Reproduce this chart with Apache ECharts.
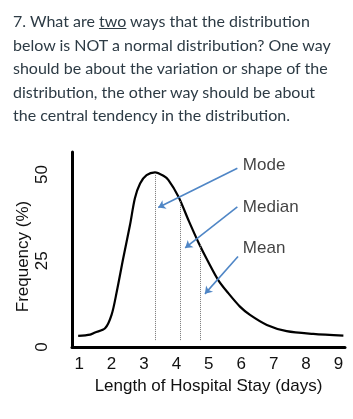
<!DOCTYPE html>
<html>
<head>
<meta charset="utf-8">
<script src="https://cdn.jsdelivr.net/npm/echarts@6/dist/echarts.min.js"></script>
<style>
  html, body { margin: 0; padding: 0; background: #fff; }
  #question {
    position: absolute; left: 13px; top: 9px;
    font-family: Lato, sans-serif; font-size: 16px; line-height: 23.6px;
    color: #2d3b45; white-space: nowrap; z-index: 2;
  }
  #chart { position: absolute; left: 0; top: 0; width: 353px; height: 419px; }
</style>
</head>
<body>
<div id="question">
  7. What are <u>two</u> ways that the distribution<br>
  below is NOT a normal distribution? One way<br>
  should be about the variation or shape of the<br>
  distribution, the other way should be about<br>
  the central tendency in the distribution.
</div>
<div id="chart"></div>
<script>
// curve: [days, frequency %]
const curveX = [0.97, 1.34, 1.49, 1.8, 2.0, 2.16, 2.36, 2.57, 2.72, 2.88, 3.08, 3.34, 3.6, 3.75, 4.06, 4.37, 4.68, 4.98, 5.29, 5.6, 5.96, 6.27, 6.79, 7.4, 8.22, 9.15]
const curveY = [3.2, 3.6, 4.2, 5.4, 9.3, 16, 25.7, 35.4, 43.1, 47.4, 49.8, 50.6, 49.6, 48.4, 43.6, 36.8, 30.3, 24.7, 19.4, 15.6, 11.7, 9.3, 6.4, 4.6, 3.8, 3.3]
const xTicks = [1, 2, 3, 4, 5, 6, 7, 8, 9]
const yTicks = [0, 25, 50]

// centre measures
const centerNames = ['Mode', 'Median', 'Mean']
const centerX = [3.36, 4.11, 4.73]
const centerTop = [50.6, 42.6, 29.6]
const centerBottom = 2

// annotation arrows (tail -> head) and label anchors
const arrowTail = [[5.88, 51.8], [5.88, 40.6], [5.9, 26.2]]
const arrowHead = [[3.44, 40.4], [4.27, 28.7], [4.88, 15.4]]
const labelPos = [[6.05, 52.7], [6.05, 40.6], [6.05, 28.7]]

const chart = echarts.init(document.getElementById('chart'))
const font = 'Liberation Sans, Arial, sans-serif'

const option = {
  animation: false,
  grid: { left: 72, right: 8, top: 152, bottom: 72 },
  xAxis: {
    type: 'value',
    min: 0.78,
    max: 9.2,
    name: 'Length of Hospital Stay (days)',
    nameLocation: 'middle',
    nameGap: 31,
    nameTextStyle: { color: '#111', fontSize: 17, fontFamily: font },
    axisLine: { lineStyle: { color: '#000', width: 3 } },
    axisTick: { show: false },
    splitLine: { show: false },
    axisLabel: { customValues: xTicks, color: '#111', fontSize: 17, fontFamily: font, margin: 9 }
  },
  yAxis: {
    type: 'value',
    min: 0,
    max: 56.5,
    name: 'Frequency (%)',
    nameLocation: 'middle',
    nameRotate: 90,
    nameGap: 40,
    nameMoveOverlap: false,
    nameTextStyle: { color: '#111', fontSize: 17, fontFamily: font, padding: [0, 14, 0, 0] },
    axisLine: { show: true, lineStyle: { color: '#000', width: 3 } },
    axisTick: { show: false },
    splitLine: { show: false },
    axisLabel: { customValues: yTicks, rotate: 90, color: '#111', fontSize: 17, fontFamily: font, margin: 21 }
  },
  series: [
    {
      type: 'line',
      data: curveX.map((x, i) => [x, curveY[i]]),
      smooth: 0.3,
      showSymbol: false,
      lineStyle: { color: '#000', width: 2.2 },
      z: 3,
      markLine: {
        silent: true,
        symbol: ['none', 'none'],
        label: { show: false },
        lineStyle: { color: '#777', type: 'dotted', width: 1 },
        data: centerX.map((x, i) => [{ coord: [x, centerBottom] }, { coord: [x, centerTop[i]] }])
      }
    },
    {
      type: 'line',
      data: [],
      markLine: {
        silent: true,
        symbol: ['none', 'arrow'],
        symbolSize: 7,
        label: { show: false },
        lineStyle: { color: '#4f86c6', type: 'solid', width: 1.6 },
        data: arrowTail.map((t, i) => [{ coord: t }, { coord: arrowHead[i] }])
      }
    },
    {
      type: 'scatter',
      symbolSize: 0,
      data: labelPos.map((p, i) => ({ value: p, name: centerNames[i] })),
      label: {
        show: true,
        position: 'right',
        distance: 0,
        formatter: '{b}',
        color: '#111',
        fontSize: 17,
        fontFamily: font
      }
    }
  ]
}
chart.setOption(option)
</script>
</body>
</html>
